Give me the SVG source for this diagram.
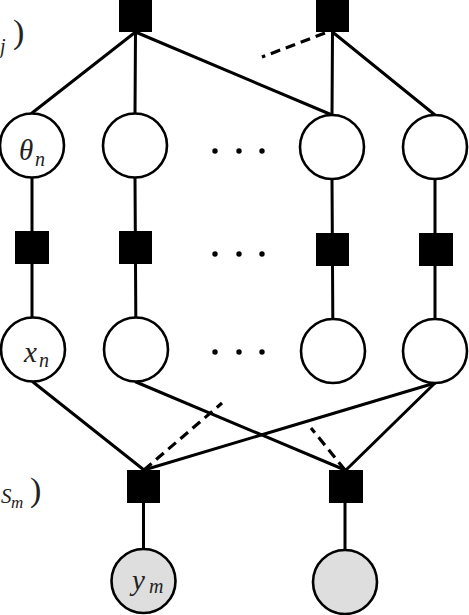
<svg xmlns="http://www.w3.org/2000/svg" width="469" height="615" viewBox="0 0 469 615">
<style>
.edge{stroke:#000;stroke-width:3;fill:none;stroke-linecap:round}
.dash{stroke-dasharray:10,6;stroke-linecap:butt;stroke-width:3.2}
.var{fill:#fff;stroke:#000;stroke-width:2.6}
.obs{fill:#dedede;stroke:#000;stroke-width:2.6}
.fac{fill:#000}
.lbl{font-family:"Liberation Serif","DejaVu Serif",serif;font-style:italic;fill:#222}
.dot{fill:#000}
</style>
<rect width="469" height="615" fill="#fff"/>
<g id="connectors">
<line class="edge" x1="135.5" y1="32" x2="32" y2="113"/>
<line class="edge" x1="135.5" y1="32" x2="135" y2="113"/>
<line class="edge" x1="135.5" y1="32" x2="332" y2="115"/>
<line class="edge" x1="332.5" y1="32" x2="332" y2="115"/>
<line class="edge" x1="332.5" y1="32" x2="435" y2="115"/>
<line class="edge dash" x1="325" y1="33" x2="262" y2="57"/>
<line class="edge" x1="32" y1="178" x2="32" y2="348"/>
<line class="edge" x1="135" y1="178" x2="136" y2="349"/>
<line class="edge" x1="332" y1="179" x2="333" y2="351"/>
<line class="edge" x1="435" y1="179" x2="435" y2="351"/>
<line class="edge" x1="33" y1="382" x2="144" y2="470"/>
<line class="edge" x1="136" y1="382" x2="345" y2="470"/>
<line class="edge" x1="435" y1="383" x2="144" y2="470"/>
<line class="edge" x1="435" y1="383" x2="346" y2="470"/>
<line class="edge dash" x1="144" y1="470" x2="222" y2="403"/>
<line class="edge dash" x1="345" y1="470" x2="311" y2="428"/>
<line class="edge" x1="143.5" y1="503" x2="143.5" y2="549"/>
<line class="edge" x1="345" y1="503" x2="345" y2="550"/>
</g>
<g id="factor_top1"><rect class="fac" x="119" y="0" width="33" height="32"/></g>
<g id="factor_top2"><rect class="fac" x="316" y="0" width="33" height="32"/></g>
<g id="theta1"><circle class="var" cx="32" cy="145.5" r="32"/>
<text class="lbl" x="19" y="160" font-size="29">θ</text><text class="lbl" x="35" y="166" font-size="20">n</text></g>
<g id="theta2"><circle class="var" cx="135" cy="145.5" r="32"/></g>
<g id="theta3"><circle class="var" cx="332" cy="147" r="32"/></g>
<g id="theta4"><circle class="var" cx="435" cy="147" r="32"/></g>
<g id="dots1"><circle class="dot" cx="215" cy="151" r="2.7"/><circle class="dot" cx="239" cy="151" r="2.7"/><circle class="dot" cx="262" cy="151" r="2.7"/></g>
<g id="factor_mid1"><rect class="fac" x="15" y="231" width="34" height="33"/></g>
<g id="factor_mid2"><rect class="fac" x="119" y="231" width="33" height="33"/></g>
<g id="factor_mid3"><rect class="fac" x="316" y="233" width="33" height="33"/></g>
<g id="factor_mid4"><rect class="fac" x="419" y="233" width="34" height="33"/></g>
<g id="dots2"><circle class="dot" cx="215" cy="254" r="2.7"/><circle class="dot" cx="239" cy="254" r="2.7"/><circle class="dot" cx="262" cy="254" r="2.7"/></g>
<g id="x1"><circle class="var" cx="33" cy="349.5" r="32"/>
<text class="lbl" x="24" y="362" font-size="29">x</text><text class="lbl" x="39" y="367" font-size="20">n</text></g>
<g id="x2"><circle class="var" cx="136" cy="349.5" r="32"/></g>
<g id="x3"><circle class="var" cx="333" cy="351" r="32"/></g>
<g id="x4"><circle class="var" cx="435" cy="351" r="32"/></g>
<g id="dots3"><circle class="dot" cx="215" cy="352" r="2.7"/><circle class="dot" cx="239" cy="352" r="2.7"/><circle class="dot" cx="262" cy="352" r="2.7"/></g>
<g id="factor_bot1"><rect class="fac" x="127" y="470" width="33" height="33"/></g>
<g id="factor_bot2"><rect class="fac" x="329" y="470" width="34" height="33"/></g>
<g id="y1"><circle class="obs" cx="143.5" cy="581" r="32"/>
<text class="lbl" x="132" y="590" font-size="29">y</text><text class="lbl" x="149" y="593" font-size="20">m</text></g>
<g id="y2"><circle class="obs" cx="345" cy="582" r="32"/></g>
<g id="label_top"><text class="lbl" x="0" y="53" font-size="20">j</text><text x="13" y="43" font-size="34" font-family="Liberation Serif, serif" fill="#222">)</text></g>
<g id="label_bot"><text class="lbl" x="1" y="503" font-size="21">S</text><text class="lbl" x="11" y="508" font-size="17">m</text><text x="30" y="501" font-size="34" font-family="Liberation Serif, serif" fill="#222">)</text></g>
</svg>
